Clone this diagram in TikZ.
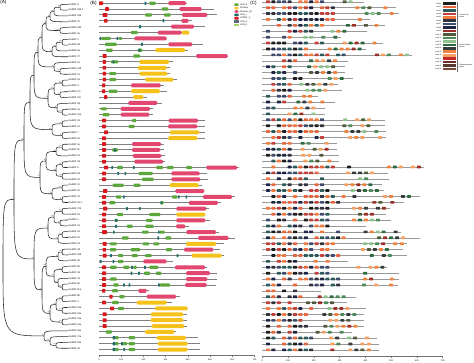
\documentclass[tikz,border=0pt]{standalone}
\usepackage{fontspec}
\setmainfont{Liberation Sans}
\usetikzlibrary{calc}
\definecolor{cGreen}{HTML}{5DA83C}
\definecolor{cYel}{HTML}{F5C21B}
\definecolor{cPink}{HTML}{E2476F}
\definecolor{cTeal}{HTML}{1D6A68}
\definecolor{cRed}{HTML}{D8191E}
\definecolor{cSlate}{HTML}{5E6A84}
\definecolor{cLight}{HTML}{A8D46C}
\definecolor{mc1}{HTML}{1E1E1E}
\definecolor{mc2}{HTML}{E8663D}
\definecolor{mc3}{HTML}{2D5B5B}
\definecolor{mc4}{HTML}{C2403A}
\definecolor{mc5}{HTML}{F2793F}
\definecolor{mc6}{HTML}{333340}
\definecolor{mc7}{HTML}{3E4D6E}
\definecolor{mc8}{HTML}{1F2645}
\definecolor{mc9}{HTML}{9E2F28}
\definecolor{mc10}{HTML}{4F5C3C}
\definecolor{mc11}{HTML}{4E8B5B}
\definecolor{mc12}{HTML}{8DC28D}
\definecolor{mc13}{HTML}{2E6A40}
\definecolor{mc14}{HTML}{343C3C}
\definecolor{mc15}{HTML}{F0823F}
\definecolor{mc16}{HTML}{F6A062}
\definecolor{mc17}{HTML}{C22A2A}
\definecolor{mc18}{HTML}{6A2C2C}
\definecolor{mc19}{HTML}{5A3B31}
\definecolor{mc20}{HTML}{7A4A3A}
\def\hgtn{1.9}\def\hgtg{1.6}\def\hgtt{1.6}\def\hgtp{2.0}\def\hgty{2.0}\def\hgtx{0}
\newcommand\tn[5]{%
  \path let \p1=($(#2)!.5!(#3)$) in coordinate (#1) at (#4pt,\y1);
  \draw[br] (#1) .. controls (#1 |- #2) .. (#2);
  \draw[br] (#1) .. controls (#1 |- #3) .. (#3);
  \node[bs] at (#1) {#5};
}
\def\genedata{%
1/186.7/p/168.3/186/{n/99/103,t/144.5/146.3,g/149.3/155.7},%
2/214/p/179.3/201.7/{n/105/109,g/161.7/168.3},%
3/216.7/p/182/207.3/{n/102.7/107.3,g/145/152,g/164/170.7},%
4/191.7/p/181.3/188.7/{n/104/107.5,t/162.5/164.3},%
5/205/p/171/194/{t/139/141},%
6/189.3/p/157.7/181.7/{g/131/137.7,y/181.7/189.3},%
7/166.7/p/134.3/166.7/{t/99.5/101.3,g/101.7/110.7,t/116.5/118.3,g/119/122},%
8/203/p/168.3/192.3/{g/105/116.7,t/141/142.8},%
9/188.3/y/155.3/185/{g/106/112.7,g/137.7/142.3,t/138.5/140.3},%
10/227.7/p/196/227.7/{n/102.7/106.7,g/133.3/140},%
11/172.7/y/139.3/169/{n/102.7/106,g/111/118.3,t/112.5/114.3},%
12/170/y/137.7/166.7/{n/102.7/106},%
13/170/y/139.3/167.3/{n/102.7/106,g/109.3/116},%
14/177.3/y/145/173.3/{n/102.7/106,g/109.3/116},%
15/164/p/131/160.7/{n/102/105.3},%
16/167.3/y/131/160/{n/102/105.3,g/108.7/117.3},%
17/146.7/y/133.3/143.3/{n/104/107.3},%
18/161.7/p/128.3/157.3/{x/99/99},%
19/153.3/p/120.7/150/{g/101/106.7},%
20/153.3/p/120.7/149.3/{g/102.7/109.3},%
21/204.7/p/168.7/198/{n/102/106,g/132/136.3},%
22/204.7/p/168/197.3/{n/102/106,g/128.7/134.7},%
23/205.3/y/169.7/199.3/{n/104/108},%
24/205.3/y/168/197.3/{n/102/106},%
25/163.7/p/132/161/{n/102/106},%
26/163.7/p/132/160.3/{n/102/106,g/112/118,t/114/116},%
27/164.7/p/132.7/161.3/{n/102/106},%
28/164.7/p/134.3/163/{n/102/106},%
29/238.7/p/206.3/237/{n/104/108,t/111.3/113,g/117/123,t/133/134.7,g/156.3/163,g/167/173.7,g/186.3/192},%
30/207/p/171.3/199.7/{n/102/106,t/117.3/119,t/124.5/126.2,g/138.7/152.7},%
31/208/p/171.3/200.3/{n/102/106,g/142/153.7},%
32/202/y/169.7/198.7/{g/112.7/123.7,g/133.7/140.3},%
33/204.3/p/175.3/204.3/{n/103/107.3},%
34/234.7/p/203/232/{n/102/106,g/116/121.3,t/123/124.7,g/172/177.3,t/178/179.7,t/185.5/187.2},%
35/221.3/p/188.7/218/{n/102/106,g/109.3/115.3,g/160.3/163.7,t/160.5/162.2},%
36/208.7/p/176.3/206.3/{n/103/107.3,t/126.2/128,t/139/140.7},%
37/205.3/y/176.3/205.3/{n/102/106,g/117/123,g/149.3/160.3},%
38/210.3/p/176.3/205.3/{n/102/106,g/114.7/118,t/115.2/117,g/146/152.7},%
39/188.7/p/176/185.3/{n/102/106,t/115.2/117,g/127/132.7,g/145.3/153.7},%
40/218.7/p/186.3/216/{n/102/107,t/113/114.7,g/142/148.7,t/158/159.7,g/159.7/164.7},%
41/235.3/p/198/228.7/{g/122/128.7,t/157.3/159,g/165.3/171.3},%
42/224/y/186/216/{n/102.7/106.7,g/110/116.7,g/142.7/149,g/153.3/159.3},%
43/220/p/184/213.3/{n/102.7/106,g/110/116,g/130.7/140,g/166/172},%
44/224/y/191.7/221.7/{n/102.7/106.7,t/110/111.8,g/118/123.3,g/131.7/137.7,g/145/151.7,t/176.5/178.3},%
45/173.3/p/143.3/166.7/{t/99.5/101.5,t/112.5/114.3,g/118/123.3},%
46/206.7/p/175/205/{n/102/106,g/110/116.7,g/123.3/129.3,t/131/132.8,g/133.3/136.7,t/144/145.8,g/149.3/158.3},%
47/216.7/p/186/210/{n/102/106,t/130.5/132.3,t/138/139.8,g/144/150,g/156/161.3},%
48/216.7/p/186/207.3/{n/102/106,g/110/116.7},%
49/216/p/185/206.7/{n/102/106,g/113.3/118.7,t/123/124.8,t/128.5/130.3,t/158/159.8,g/160/170},%
50/149.3/p/138.3/146.7/{n/102/105.3,g/112/118},%
51/180/p/146.7/176/{n/109.3/112.7,g/119.3/124.7},%
52/171.7/y/136.7/166.7/{n/102/106,g/112/118.7},%
53/188.3/y/155/187.7/{n/110/114,g/118/124},%
54/186.7/y/150.7/183.3/{n/102.7/106.7},%
55/186.7/y/150.7/183.3/{n/102.7/106.7},%
56/186.7/y/151.7/184.3/{n/102.7/106.7},%
57/176/y/145/174.3/{g/105.7/112},%
58/198.3/y/156.7/186/{t/112.7/115.5,g/115.5/118.5,g/128.7/135},%
59/200/y/157.7/187.7/{t/112.7/115.5,g/115.5/118.5,t/121/123,g/123/127,g/128.7/135},%
60/200/y/157.7/187.7/{t/112.7/115.5,g/115.5/118.5,t/123.3/125,g/128.7/135}%
}
\tikzset{
  br/.style={draw=black!85, line width=0.55pt},
  bs/.style={font=\fontsize{1.6}{1.8}\selectfont, text=black!70, anchor=south east, inner sep=0.2pt},
  leaflab/.style={font=\fontsize{2.4}{2.8}\selectfont, anchor=west, inner sep=0.4pt},
  panlab/.style={font=\fontsize{4.6}{5}\selectfont, inner sep=0pt},
  bline/.style={draw=black!50, line width=0.9pt},
  cline/.style={draw=black!40, line width=0.5pt},
  dn/.style={fill=cRed, rounded corners=0.6pt},
  dg/.style={fill=cGreen, rounded corners=0.8pt},
  dt/.style={fill=cTeal, rounded corners=0.5pt},
  dp/.style={fill=cPink, rounded corners=1.3pt},
  dy/.style={fill=cYel, rounded corners=1.3pt},
  dx/.style={},
  dl4/.style={fill=cSlate},
  dl6/.style={fill=cLight},
  mot/.style={rounded corners=0.5pt},
  legt/.style={font=\fontsize{2.2}{2.5}\selectfont, anchor=west, inner sep=0.2pt},
  mlegt/.style={font=\fontsize{1.7}{2}\selectfont, anchor=east, inner sep=0.2pt},
  glegt/.style={font=\fontsize{1.8}{2.1}\selectfont, anchor=west, inner sep=0.2pt, align=left},
  axis/.style={draw=black!55, line width=0.8pt},
  axl/.style={font=\fontsize{2.2}{2.5}\selectfont, inner sep=0.2pt}
}
\begin{document}
\begin{tikzpicture}[x=1pt,y=-1pt]
\useasboundingbox (0,0) rectangle (474,363);
\fill[white] (0,0) rectangle (474,363);
\pgfmathsetseed{11}
% panel labels
\node[panlab] (labA) at (3.4,2.8) {(A)};
\node[panlab] (labB) at (93.5,3.6) {(B)};
\node[panlab] (labC) at (253.5,3.0) {(C)};
% ---------- tree leaves
\foreach \i/\nm in {1/GaSRF 6,2/GaSRF 10b.1,3/GaSRF 10b,4/GaSRF 7b,5/GaSRF 2d1,6/GaSRF 3a,7/GaSRF 2,8/GaSRF 8d,9/GaSRF 8a,10/GaSRF 27,11/GaSRF 16,12/GaSRF 10d,13/GaSRF 21,14/GaSRF 9a,15/GaSRF 9,16/GaSRF 9.1,17/GaSRF 10c,18/GaSRF 5d,19/GaSRF 4a,20/GaSRF 10a,21/GaSRF 28,22/GaSRF 14,23/GaSRF 7,24/GaSRF 15,25/GaSRF 1a,26/GaSRF 11,27/GaSRF 13,28/GaSRF 3d,29/GaSRF 5,30/GaSRF 6d,31/GaSRF 19,32/GaSRF 12,33/GaSRF 20,34/GaSRF 22,35/GaSRF 26.1,36/GaSRF 17b,37/GaSRF 18,38/GaSRF 1,39/GaSRF 2a,40/GaSRF 24,41/GaSRF 25,42/GaSRF 23,43/GaSRF 4d,44/GaSRF 19d,45/GaSRF 3b,46/GaSRF 5b,47/GaSRF 1d,48/GaSRF 7d,49/GaSRF 6b,50/GaSRF 11a,51/GaSRF 8b,52/GaSRF 4,53/GaSRF 12a,54/GaSRF 13a,55/GaSRF 14a,56/GaSRF 15a,57/GaSRF 16a,58/GaSRF 17a,59/GaSRF 18a,60/GaSRF 26}{
  \pgfmathsetmacro\ly{4.3+(\i-1)*5.83}
  \coordinate (p\i) at (68,\ly);
  \node[leaflab] (lab\i) at (p\i) {\nm};
}
% ---------- tree internal nodes
\tn{tA}{p1}{p2}{60}{99}
\tn{tB}{tA}{p3}{54}{100}
\tn{tC}{tB}{p4}{50}{98}
\tn{tD}{p5}{p6}{60}{100}
\tn{tE}{tC}{tD}{46}{99}
\tn{tF}{p7}{p8}{62}{100}
\tn{tG}{tF}{p9}{56}{96}
\tn{tH}{tG}{p10}{52}{99}
\tn{tI}{tE}{tH}{42}{97}
\tn{tJa}{p12}{p13}{60}{100}
\tn{tJ}{p11}{tJa}{54}{99}
\tn{tK}{tI}{tJ}{38}{97}
\tn{tMa}{p14}{p15}{62}{100}
\tn{tMb}{p16}{p17}{60}{99}
\tn{tMc}{tMa}{tMb}{54}{100}
\tn{tMe}{p19}{p20}{62}{100}
\tn{tMd}{p18}{tMe}{57}{98}
\tn{tM}{tMc}{tMd}{48}{80}
\tn{tSt}{tK}{tM}{34}{7}
\tn{tPa}{p21}{p22}{62}{100}
\tn{tPb}{p23}{p24}{62}{99}
\tn{tP}{tPa}{tPb}{52}{100}
\tn{tU}{tSt}{tP}{30}{17}
\tn{tQa}{p25}{p26}{62}{100}
\tn{tQb}{tQa}{p27}{56}{99}
\tn{tQc}{p28}{p29}{62}{100}
\tn{tQd}{p30}{p31}{62}{100}
\tn{tQe}{tQc}{tQd}{56}{98}
\tn{tQ}{tQb}{tQe}{46}{61}
\tn{tRa}{p32}{p33}{62}{100}
\tn{tRb}{p34}{p35}{62}{99}
\tn{tR}{tRa}{tRb}{52}{78}
\tn{tCc}{tQ}{tR}{40}{67}
\tn{tN}{tU}{tCc}{24}{17}
\tn{tVa}{p36}{p37}{62}{100}
\tn{tVb}{p38}{p39}{60}{99}
\tn{tVc}{tVa}{tVb}{54}{100}
\tn{tVd}{p40}{p41}{62}{100}
\tn{tVe}{tVd}{p42}{58}{97}
\tn{tV}{tVc}{tVe}{48}{17}
\tn{tWa}{p43}{p44}{62}{100}
\tn{tWb}{tWa}{p45}{58}{99}
\tn{tWc}{p46}{p47}{62}{100}
\tn{tWe}{p49}{p50}{62}{100}
\tn{tWd}{p48}{tWe}{58}{98}
\tn{tWf}{tWc}{tWd}{54}{97}
\tn{tW}{tWb}{tWf}{46}{99}
\tn{tXa}{p51}{p52}{62}{100}
\tn{tXb}{p53}{p54}{62}{100}
\tn{tXc}{tXa}{tXb}{56}{99}
\tn{tXd}{p55}{p56}{62}{100}
\tn{tX}{tXc}{tXd}{50}{98}
\tn{tDW}{tW}{tX}{42}{81}
\tn{tDd}{tV}{tDW}{34}{31}
\tn{tNa}{tN}{tDd}{14}{5}
\tn{tLc}{p59}{p60}{56}{100}
\tn{tLb}{p58}{tLc}{50}{100}
\tn{tL}{p57}{tLb}{44}{99}
\tn{tRoot}{tNa}{tL}{3}{}
% ---------- panels B and C
\foreach \rw/\rend/\kt/\ks/\ke/\doms in \genedata {
  \pgfmathsetmacro\yy{3.2+(\rw-1)*5.87}
  \draw[bline] (99,\yy) -- (\rend,\yy);
  \foreach \dty/\dA/\dB in \doms {
    \edef\hh{\csname hgt\dty\endcsname}
    \path[d\dty] (\dA,\yy-\hh) rectangle (\dB,\yy+\hh);
  }
  \path[d\kt] (\ks,\yy-2) rectangle (\ke,\yy+2);
  % panel C
  \pgfmathsetmacro\yc{1.8+(\rw-1)*5.9}
  \pgfmathsetmacro\ce{262.3+(\rend-99)*1.16}
  \pgfmathsetmacro\cks{262.3+(\ks-99)*1.16}
  \pgfmathsetmacro\cke{262.3+(\ke-99)*1.16}
  \draw[cline] (262.3,\yc) -- (\ce,\yc);
  \pgfmathtruncatemacro\nA{max(0,(0.78*(\cks-266)-4)/5.4)}
  \foreach \j in {0,...,\nA}{
    \pgfmathrandominteger{\sk}{0}{4}
    \ifnum\sk>0
      \pgfmathrandominteger{\mk}{1}{8}
      \pgfmathsetmacro\xa{266+\j*5.4}
      \path[mot,fill=mc\mk] (\xa,\yc-1.35) rectangle (\xa+4,\yc+1.35);
    \fi
  }
  \pgfmathtruncatemacro\nB{max(0,(\cke-\cks-4)/6)}
  \foreach \j in {0,...,\nB}{
    \pgfmathrandominteger{\sk}{0}{3}
    \ifnum\sk>0
      \pgfmathrandominteger{\mk}{9}{16}
      \pgfmathsetmacro\xa{\cks+\j*6}
      \path[mot,fill=mc\mk] (\xa,\yc-1.35) rectangle (\xa+4,\yc+1.35);
    \fi
  }
  \pgfmathtruncatemacro\nC{max(0,min(3,(\ce-\cke-2)/7))}
  \ifnum\nC>0
    \foreach \j in {1,...,\nC}{
      \pgfmathrandominteger{\mk}{15}{16}
      \pgfmathsetmacro\xa{\cke+\j*7-5}
      \path[mot,fill=mc\mk] (\xa,\yc-1.35) rectangle (\xa+3.8,\yc+1.35);
    }
  \fi
}
% ---------- legend B
\foreach \i/\st/\txt in {0/dg/LRR\_8,1/dy/Pkinase,2/dp/Pkinase\_Tyr,3/dt/LRR\_1,4/dn/LRRNT\_2,5/dl4/LRR\_4,6/dl6/LRR\_6}{
  \pgfmathsetmacro\ly{4.7+\i*3.4}
  \path[\st] (234.3,\ly-1.3) rectangle (238.6,\ly+1.3);
  \node[legt] (lgB\i) at (239.8,\ly) {\txt};
}
% ---------- legend C
\foreach \i in {1,...,20}{
  \pgfmathsetmacro\ly{3.5+(\i-1)*3.45}
  \node[mlegt] (lgC\i) at (441.8,\ly) {motif \i};
  \path[fill=mc\i] (442.5,\ly-1.3) rectangle (456,\ly+1.3);
}
\draw[black!60, line width=0.3pt] (456.6,2) -- (457.6,2) -- (457.6,29.6) -- (456.6,29.6);
\draw[black!60, line width=0.3pt] (456.6,30.4) -- (457.6,30.4) -- (457.6,60.1) -- (456.6,60.1);
\draw[black!60, line width=0.3pt] (456.6,61) -- (457.6,61) -- (457.6,71.5) -- (456.6,71.5);
\node[glegt] (g1) at (458.5,16) {Leucine-rich\\repeat};
\node[glegt] (g2) at (458.5,45.5) {Protein kinase\\domain};
\node[glegt] (g3) at (458.5,66) {Transmembrane\\region};
% ---------- axes
\draw[axis] (99,355.5) -- (254.4,355.5);
\foreach \k/\lb in {0/0,1/100,2/200,3/300,4/400,5/500,6/600,7/700}{
  \draw[black!55, line width=0.4pt] (99+\k*22.2,355.5) -- ++(0,1.6);
  \node[axl] (axB\k) at (99+\k*22.2,359.6) {\lb};
}
\draw[axis] (262.3,356.5) -- (442.7,356.5);
\foreach \k/\lb in {0/0,1/100,2/200,3/300,4/400,5/500,6/600,7/700}{
  \draw[black!55, line width=0.4pt] (262.3+\k*25.77,356.5) -- ++(0,1.6);
  \node[axl] (axC\k) at (262.3+\k*25.77,360.6) {\lb};
}
\end{tikzpicture}
\end{document}
